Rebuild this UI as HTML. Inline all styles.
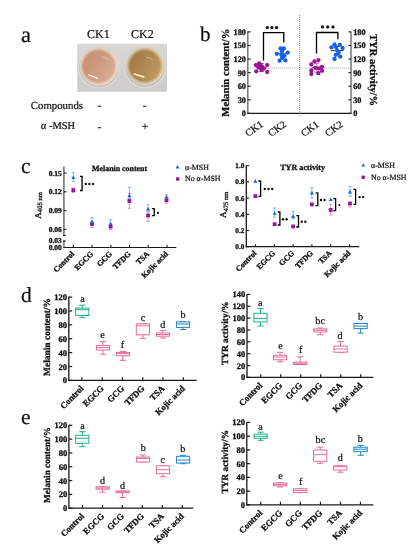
<!DOCTYPE html>
<html><head><meta charset="utf-8"><style>
html,body{margin:0;padding:0;background:#fff;}
svg{display:block;font-family:"Liberation Serif", serif;will-change:transform;text-rendering:geometricPrecision;}
</style></head><body>
<svg width="420" height="550" viewBox="0 0 420 550">
<rect width="420" height="550" fill="#fff"/>
<text x="21.00" y="41.50" font-size="22.5" font-weight="normal" text-anchor="start" fill="#111"  stroke="#111" stroke-width="0.22">a</text>
<text x="87.00" y="38.30" font-size="12" font-weight="normal" text-anchor="start" fill="#111"  stroke="#111" stroke-width="0.22">CK1</text>
<text x="131.00" y="38.30" font-size="12" font-weight="normal" text-anchor="start" fill="#111"  stroke="#111" stroke-width="0.22">CK2</text>
<text x="30.80" y="109.30" font-size="10.8" font-weight="normal" text-anchor="start" fill="#111"  stroke="#111" stroke-width="0.22">Compounds</text>
<text x="40.80" y="128.80" font-size="10.5" font-weight="normal" text-anchor="start" fill="#111"  stroke="#111" stroke-width="0.22">α -MSH</text>
<line x1="97.60" y1="106.30" x2="101.20" y2="106.30" stroke="#222" stroke-width="1.1" />
<line x1="143.00" y1="106.30" x2="146.40" y2="106.30" stroke="#222" stroke-width="1.1" />
<line x1="97.80" y1="127.70" x2="101.20" y2="127.70" stroke="#222" stroke-width="1.1" />
<line x1="142.00" y1="126.40" x2="148.00" y2="126.40" stroke="#222" stroke-width="0.9" />
<line x1="145.00" y1="123.40" x2="145.00" y2="129.40" stroke="#222" stroke-width="0.9" />
<defs>
<linearGradient id="w1" x1="0" y1="0.2" x2="1" y2="0.8">
<stop offset="0" stop-color="#c48c70"/><stop offset="0.45" stop-color="#cc9a7e"/><stop offset="1" stop-color="#dab29a"/></linearGradient>
<linearGradient id="w2" x1="0" y1="0.2" x2="1" y2="0.8">
<stop offset="0" stop-color="#9e7440"/><stop offset="0.45" stop-color="#ae8650"/><stop offset="1" stop-color="#c4a264"/></linearGradient>
<radialGradient id="rim" cx="0.5" cy="0.5" r="0.5">
<stop offset="0.78" stop-color="#fff" stop-opacity="0"/><stop offset="0.9" stop-color="#f4ece6" stop-opacity="0.45"/><stop offset="1" stop-color="#f4eee8" stop-opacity="0.85"/></radialGradient>
<radialGradient id="r1" cx="0.5" cy="0.5" r="0.5">
<stop offset="0.80" stop-color="#e2dcd6"/><stop offset="0.88" stop-color="#bdb7b2"/><stop offset="0.93" stop-color="#dedcda"/><stop offset="1" stop-color="#d2d0ce"/></radialGradient>
<linearGradient id="pl" x1="0" y1="0" x2="0" y2="1"><stop offset="0" stop-color="#d8d7d6"/><stop offset="1" stop-color="#cdcccb"/></linearGradient>
</defs>
<rect x="77.2" y="43.8" width="89.8" height="48" fill="url(#pl)"/>
<circle cx="98.8" cy="67.4" r="21.6" fill="url(#r1)"/>
<circle cx="145.0" cy="67.3" r="21.5" fill="url(#r1)"/>
<circle cx="98.8" cy="66.4" r="19.2" fill="url(#w1)"/>
<circle cx="145.0" cy="66.0" r="19.0" fill="url(#w2)"/>
<circle cx="98.8" cy="66.4" r="19.2" fill="url(#rim)"/>
<circle cx="145.0" cy="66.0" r="19.0" fill="url(#rim)"/>
<path d="M88.8,74.8 Q93,76.5 97.6,78.2" stroke="#fff6f0" stroke-width="1.4" fill="none" opacity="0.95" stroke-linecap="round"/>
<path d="M134.2,74 Q139,75.5 143.8,77" stroke="#fff8e6" stroke-width="1.4" fill="none" opacity="0.95" stroke-linecap="round"/>
<path d="M102,57 Q106,57.5 109,60" stroke="#e8c8b6" stroke-width="1.0" fill="none" opacity="0.8"/>
<path d="M146,57 Q150,57.5 153,60" stroke="#dcc090" stroke-width="1.0" fill="none" opacity="0.8"/>
<text x="200.00" y="41.00" font-size="21" font-weight="normal" text-anchor="start" fill="#111"  stroke="#111" stroke-width="0.22">b</text>
<line x1="247.8" y1="68.1" x2="351.0" y2="68.1" stroke="#8a8a8a" stroke-width="0.8" stroke-dasharray="1 1"/>
<line x1="299.6" y1="15" x2="299.6" y2="116.7" stroke="#777" stroke-width="0.8" stroke-dasharray="1 1"/>
<line x1="247.80" y1="31.40" x2="247.80" y2="114.00" stroke="#707070" stroke-width="1.45" />
<line x1="247.20" y1="113.40" x2="351.60" y2="113.40" stroke="#1a1a1a" stroke-width="1.2" />
<line x1="351.00" y1="31.40" x2="351.00" y2="114.00" stroke="#707070" stroke-width="1.45" />
<line x1="247.80" y1="113.40" x2="250.60" y2="113.40" stroke="#1a1a1a" stroke-width="1.1" />
<line x1="348.40" y1="113.40" x2="351.00" y2="113.40" stroke="#1a1a1a" stroke-width="1.1" />
<text x="246.00" y="116.30" font-size="8.3" font-weight="bold" text-anchor="end" fill="#111"  stroke="#111" stroke-width="0.3">0</text>
<text x="353.20" y="116.30" font-size="8.3" font-weight="bold" text-anchor="start" fill="#111"  stroke="#111" stroke-width="0.3">0</text>
<line x1="247.80" y1="99.82" x2="250.60" y2="99.82" stroke="#1a1a1a" stroke-width="1.1" />
<line x1="348.40" y1="99.82" x2="351.00" y2="99.82" stroke="#1a1a1a" stroke-width="1.1" />
<text x="246.00" y="102.72" font-size="8.3" font-weight="bold" text-anchor="end" fill="#111"  stroke="#111" stroke-width="0.3">30</text>
<text x="353.20" y="102.72" font-size="8.3" font-weight="bold" text-anchor="start" fill="#111"  stroke="#111" stroke-width="0.3">30</text>
<line x1="247.80" y1="86.23" x2="250.60" y2="86.23" stroke="#1a1a1a" stroke-width="1.1" />
<line x1="348.40" y1="86.23" x2="351.00" y2="86.23" stroke="#1a1a1a" stroke-width="1.1" />
<text x="246.00" y="89.13" font-size="8.3" font-weight="bold" text-anchor="end" fill="#111"  stroke="#111" stroke-width="0.3">60</text>
<text x="353.20" y="89.13" font-size="8.3" font-weight="bold" text-anchor="start" fill="#111"  stroke="#111" stroke-width="0.3">60</text>
<line x1="247.80" y1="72.65" x2="250.60" y2="72.65" stroke="#1a1a1a" stroke-width="1.1" />
<line x1="348.40" y1="72.65" x2="351.00" y2="72.65" stroke="#1a1a1a" stroke-width="1.1" />
<text x="246.00" y="75.55" font-size="8.3" font-weight="bold" text-anchor="end" fill="#111"  stroke="#111" stroke-width="0.3">90</text>
<text x="353.20" y="75.55" font-size="8.3" font-weight="bold" text-anchor="start" fill="#111"  stroke="#111" stroke-width="0.3">90</text>
<line x1="247.80" y1="59.07" x2="250.60" y2="59.07" stroke="#1a1a1a" stroke-width="1.1" />
<line x1="348.40" y1="59.07" x2="351.00" y2="59.07" stroke="#1a1a1a" stroke-width="1.1" />
<text x="246.00" y="61.97" font-size="8.3" font-weight="bold" text-anchor="end" fill="#111"  stroke="#111" stroke-width="0.3">120</text>
<text x="353.20" y="61.97" font-size="8.3" font-weight="bold" text-anchor="start" fill="#111"  stroke="#111" stroke-width="0.3">120</text>
<line x1="247.80" y1="45.48" x2="250.60" y2="45.48" stroke="#1a1a1a" stroke-width="1.1" />
<line x1="348.40" y1="45.48" x2="351.00" y2="45.48" stroke="#1a1a1a" stroke-width="1.1" />
<text x="246.00" y="48.38" font-size="8.3" font-weight="bold" text-anchor="end" fill="#111"  stroke="#111" stroke-width="0.3">150</text>
<text x="353.20" y="48.38" font-size="8.3" font-weight="bold" text-anchor="start" fill="#111"  stroke="#111" stroke-width="0.3">150</text>
<line x1="247.80" y1="31.90" x2="250.60" y2="31.90" stroke="#1a1a1a" stroke-width="1.1" />
<line x1="348.40" y1="31.90" x2="351.00" y2="31.90" stroke="#1a1a1a" stroke-width="1.1" />
<text x="246.00" y="34.80" font-size="8.3" font-weight="bold" text-anchor="end" fill="#111"  stroke="#111" stroke-width="0.3">180</text>
<text x="353.20" y="34.80" font-size="8.3" font-weight="bold" text-anchor="start" fill="#111"  stroke="#111" stroke-width="0.3">180</text>
<text x="228.70" y="72.60" font-size="10.7" font-weight="bold" text-anchor="middle" fill="#111" transform="rotate(-90 228.70 72.60)"  stroke="#111" stroke-width="0.3">Melanin content/%</text>
<text x="369.80" y="70.00" font-size="10.6" font-weight="bold" text-anchor="middle" fill="#111" transform="rotate(90 369.80 70.00)"  stroke="#111" stroke-width="0.3">TYR activity/%</text>
<text x="263.80" y="125.80" font-size="10.2" font-weight="normal" text-anchor="end" fill="#111" transform="rotate(-36 263.80 125.80)"  stroke="#111" stroke-width="0.22">CK1</text>
<text x="286.80" y="125.80" font-size="10.2" font-weight="normal" text-anchor="end" fill="#111" transform="rotate(-36 286.80 125.80)"  stroke="#111" stroke-width="0.22">CK2</text>
<text x="319.60" y="125.80" font-size="10.2" font-weight="normal" text-anchor="end" fill="#111" transform="rotate(-36 319.60 125.80)"  stroke="#111" stroke-width="0.22">CK1</text>
<text x="343.60" y="125.80" font-size="10.2" font-weight="normal" text-anchor="end" fill="#111" transform="rotate(-36 343.60 125.80)"  stroke="#111" stroke-width="0.22">CK2</text>
<line x1="256.25" y1="67.60" x2="266.75" y2="67.60" stroke="#7a2a78" stroke-width="0.9" />
<line x1="261.50" y1="63.50" x2="261.50" y2="71.50" stroke="#7a2a78" stroke-width="0.8" />
<line x1="259.30" y1="63.50" x2="263.70" y2="63.50" stroke="#7a2a78" stroke-width="0.8" />
<line x1="259.30" y1="71.50" x2="263.70" y2="71.50" stroke="#7a2a78" stroke-width="0.8" />
<line x1="276.75" y1="53.80" x2="287.25" y2="53.80" stroke="#333" stroke-width="0.9" />
<line x1="282.00" y1="49.50" x2="282.00" y2="58.50" stroke="#333" stroke-width="0.8" />
<line x1="279.80" y1="49.50" x2="284.20" y2="49.50" stroke="#333" stroke-width="0.8" />
<line x1="279.80" y1="58.50" x2="284.20" y2="58.50" stroke="#333" stroke-width="0.8" />
<line x1="311.65" y1="67.80" x2="322.15" y2="67.80" stroke="#b04ab0" stroke-width="0.9" />
<line x1="316.90" y1="63.20" x2="316.90" y2="72.30" stroke="#b04ab0" stroke-width="0.8" />
<line x1="314.70" y1="63.20" x2="319.10" y2="63.20" stroke="#b04ab0" stroke-width="0.8" />
<line x1="314.70" y1="72.30" x2="319.10" y2="72.30" stroke="#b04ab0" stroke-width="0.8" />
<line x1="330.70" y1="50.60" x2="343.70" y2="50.60" stroke="#222" stroke-width="0.9" />
<line x1="337.20" y1="46.50" x2="337.20" y2="55.00" stroke="#222" stroke-width="0.8" />
<line x1="335.00" y1="46.50" x2="339.40" y2="46.50" stroke="#222" stroke-width="0.8" />
<line x1="335.00" y1="55.00" x2="339.40" y2="55.00" stroke="#222" stroke-width="0.8" />
<circle cx="259.1" cy="63.5" r="2.15" fill="#9a1594"/>
<circle cx="255.8" cy="65.1" r="2.15" fill="#9a1594"/>
<circle cx="267.2" cy="65.1" r="2.15" fill="#9a1594"/>
<circle cx="262" cy="66.6" r="2.15" fill="#9a1594"/>
<circle cx="258.7" cy="67.5" r="2.15" fill="#9a1594"/>
<circle cx="256.3" cy="71.3" r="2.15" fill="#9a1594"/>
<circle cx="261.5" cy="69.9" r="2.15" fill="#9a1594"/>
<circle cx="267.2" cy="72" r="2.15" fill="#9a1594"/>
<circle cx="263.9" cy="68.5" r="2.15" fill="#9a1594"/>
<circle cx="260.5" cy="64.8" r="2.15" fill="#9a1594"/>
<circle cx="280.6" cy="48.5" r="2.15" fill="#1462e8"/>
<circle cx="283.9" cy="48.5" r="2.15" fill="#1462e8"/>
<circle cx="276.8" cy="53.8" r="2.15" fill="#1462e8"/>
<circle cx="287.7" cy="52.6" r="2.15" fill="#1462e8"/>
<circle cx="281.5" cy="55" r="2.15" fill="#1462e8"/>
<circle cx="284.4" cy="55.9" r="2.15" fill="#1462e8"/>
<circle cx="282.2" cy="57.8" r="2.15" fill="#1462e8"/>
<circle cx="279.6" cy="60.7" r="2.15" fill="#1462e8"/>
<circle cx="285.3" cy="60.4" r="2.15" fill="#1462e8"/>
<circle cx="282" cy="51.5" r="2.15" fill="#1462e8"/>
<circle cx="318.4" cy="60.1" r="2.15" fill="#9a1594"/>
<circle cx="314.5" cy="61.5" r="2.15" fill="#9a1594"/>
<circle cx="311.3" cy="64.5" r="2.15" fill="#9a1594"/>
<circle cx="322" cy="66.9" r="2.15" fill="#9a1594"/>
<circle cx="315.1" cy="67.8" r="2.15" fill="#9a1594"/>
<circle cx="318.7" cy="68.4" r="2.15" fill="#9a1594"/>
<circle cx="311.3" cy="70.5" r="2.15" fill="#9a1594"/>
<circle cx="322" cy="70.8" r="2.15" fill="#9a1594"/>
<circle cx="311.3" cy="74" r="2.15" fill="#9a1594"/>
<circle cx="318.4" cy="73.2" r="2.15" fill="#9a1594"/>
<circle cx="334.5" cy="44.5" r="2.15" fill="#1462e8"/>
<circle cx="339.9" cy="44.8" r="2.15" fill="#1462e8"/>
<circle cx="331.5" cy="47.4" r="2.15" fill="#1462e8"/>
<circle cx="336" cy="47.1" r="2.15" fill="#1462e8"/>
<circle cx="342.6" cy="48" r="2.15" fill="#1462e8"/>
<circle cx="337.2" cy="50.4" r="2.15" fill="#1462e8"/>
<circle cx="338.7" cy="52.8" r="2.15" fill="#1462e8"/>
<circle cx="335.7" cy="54.9" r="2.15" fill="#1462e8"/>
<circle cx="340.2" cy="56.7" r="2.15" fill="#1462e8"/>
<circle cx="334.5" cy="59" r="2.15" fill="#1462e8"/>
<polyline points="263.5,60.5 263.5,32.7 283.8,32.7 283.8,42.6" fill="none" stroke="#000" stroke-width="1.3"/>
<polyline points="316.5,53.6 316.5,32.5 337.9,32.5 337.9,39.3" fill="none" stroke="#000" stroke-width="1.3"/>
<circle cx="267.3" cy="27.6" r="1.6" fill="#111"/>
<circle cx="271.9" cy="27.6" r="1.6" fill="#111"/>
<circle cx="276.6" cy="27.6" r="1.6" fill="#111"/>
<circle cx="322.5" cy="26.9" r="1.6" fill="#111"/>
<circle cx="327.7" cy="26.9" r="1.6" fill="#111"/>
<circle cx="333.0" cy="26.9" r="1.6" fill="#111"/>
<text x="21.00" y="172.80" font-size="21.5" font-weight="normal" text-anchor="start" fill="#111"  stroke="#111" stroke-width="0.22">c</text>
<line x1="63.90" y1="166.40" x2="63.90" y2="235.60" stroke="#6a6a6a" stroke-width="1.5" />
<line x1="63.00" y1="235.50" x2="65.80" y2="235.50" stroke="#1a1a1a" stroke-width="1.1" />
<line x1="63.90" y1="240.20" x2="63.90" y2="248.10" stroke="#777" stroke-width="1.5" />
<line x1="63.30" y1="247.50" x2="176.40" y2="247.50" stroke="#1a1a1a" stroke-width="1.2" />
<line x1="63.90" y1="173.00" x2="66.50" y2="173.00" stroke="#1a1a1a" stroke-width="1.1" />
<text x="61.80" y="175.60" font-size="7.5" font-weight="bold" text-anchor="end" fill="#111"  stroke="#111" stroke-width="0.3">0.15</text>
<line x1="63.90" y1="191.80" x2="66.50" y2="191.80" stroke="#1a1a1a" stroke-width="1.1" />
<text x="61.80" y="194.40" font-size="7.5" font-weight="bold" text-anchor="end" fill="#111"  stroke="#111" stroke-width="0.3">0.12</text>
<line x1="63.90" y1="210.60" x2="66.50" y2="210.60" stroke="#1a1a1a" stroke-width="1.1" />
<text x="61.80" y="213.20" font-size="7.5" font-weight="bold" text-anchor="end" fill="#111"  stroke="#111" stroke-width="0.3">0.09</text>
<line x1="63.90" y1="229.40" x2="66.50" y2="229.40" stroke="#1a1a1a" stroke-width="1.1" />
<text x="61.80" y="232.00" font-size="7.5" font-weight="bold" text-anchor="end" fill="#111"  stroke="#111" stroke-width="0.3">0.06</text>
<line x1="63.00" y1="241.10" x2="65.70" y2="241.10" stroke="#1a1a1a" stroke-width="1.2" />
<text x="61.80" y="243.40" font-size="7.5" font-weight="bold" text-anchor="end" fill="#111"  stroke="#111" stroke-width="0.3">0.03</text>
<text x="61.80" y="249.60" font-size="7.5" font-weight="bold" text-anchor="end" fill="#111"  stroke="#111" stroke-width="0.3">0.00</text>
<line x1="73.30" y1="244.70" x2="73.30" y2="247.50" stroke="#1a1a1a" stroke-width="1.1" />
<line x1="92.10" y1="244.70" x2="92.10" y2="247.50" stroke="#1a1a1a" stroke-width="1.1" />
<line x1="110.90" y1="244.70" x2="110.90" y2="247.50" stroke="#1a1a1a" stroke-width="1.1" />
<line x1="129.60" y1="244.70" x2="129.60" y2="247.50" stroke="#1a1a1a" stroke-width="1.1" />
<line x1="148.20" y1="244.70" x2="148.20" y2="247.50" stroke="#1a1a1a" stroke-width="1.1" />
<line x1="167.00" y1="244.70" x2="167.00" y2="247.50" stroke="#1a1a1a" stroke-width="1.1" />
<text x="74.90" y="254.40" font-size="7.8" font-weight="bold" text-anchor="end" fill="#111" transform="rotate(-45 74.90 254.40)"  stroke="#111" stroke-width="0.3">Control</text>
<text x="93.70" y="254.40" font-size="7.8" font-weight="bold" text-anchor="end" fill="#111" transform="rotate(-45 93.70 254.40)"  stroke="#111" stroke-width="0.3">EGCG</text>
<text x="112.50" y="254.40" font-size="7.8" font-weight="bold" text-anchor="end" fill="#111" transform="rotate(-45 112.50 254.40)"  stroke="#111" stroke-width="0.3">GCG</text>
<text x="131.20" y="254.40" font-size="7.8" font-weight="bold" text-anchor="end" fill="#111" transform="rotate(-45 131.20 254.40)"  stroke="#111" stroke-width="0.3">TFDG</text>
<text x="149.80" y="254.40" font-size="7.8" font-weight="bold" text-anchor="end" fill="#111" transform="rotate(-45 149.80 254.40)"  stroke="#111" stroke-width="0.3">TSA</text>
<text x="168.60" y="254.40" font-size="7.8" font-weight="bold" text-anchor="end" fill="#111" transform="rotate(-45 168.60 254.40)"  stroke="#111" stroke-width="0.3">Kojic acid</text>
<text x="40.6" y="205.4" font-size="9" text-anchor="middle" fill="#111" stroke="#111" stroke-width="0.3" transform="rotate(-90 40.6 205.4)">A<tspan font-size="6.6" dy="1.8">405 nm</tspan></text>
<text x="119.60" y="171.20" font-size="7.9" font-weight="bold" text-anchor="middle" fill="#111"  stroke="#111" stroke-width="0.3">Melanin content</text>
<polygon points="175.60,168.51 179.40,168.51 177.50,165.09" fill="#1462e8"/>
<text x="185.00" y="169.60" font-size="7.9" font-weight="normal" text-anchor="start" fill="#111"  stroke="#111" stroke-width="0.22">α-MSH</text>
<rect x="176.05" y="177.35" width="3.3" height="3.3" fill="#9a1594"/>
<text x="185.00" y="181.20" font-size="7.9" font-weight="normal" text-anchor="start" fill="#111"  stroke="#111" stroke-width="0.22">No α-MSH</text>
<line x1="73.30" y1="188.00" x2="73.30" y2="192.60" stroke="#e07ab8" stroke-width="0.8" />
<line x1="71.70" y1="188.00" x2="74.90" y2="188.00" stroke="#e07ab8" stroke-width="0.8" />
<line x1="71.70" y1="192.60" x2="74.90" y2="192.60" stroke="#e07ab8" stroke-width="0.8" />
<line x1="73.30" y1="172.40" x2="73.30" y2="181.20" stroke="#6fa3f0" stroke-width="0.8" />
<line x1="71.70" y1="172.40" x2="74.90" y2="172.40" stroke="#6fa3f0" stroke-width="0.8" />
<line x1="71.70" y1="181.20" x2="74.90" y2="181.20" stroke="#6fa3f0" stroke-width="0.8" />
<line x1="92.00" y1="221.50" x2="92.00" y2="227.40" stroke="#e07ab8" stroke-width="0.8" />
<line x1="90.40" y1="221.50" x2="93.60" y2="221.50" stroke="#e07ab8" stroke-width="0.8" />
<line x1="90.40" y1="227.40" x2="93.60" y2="227.40" stroke="#e07ab8" stroke-width="0.8" />
<line x1="92.00" y1="217.60" x2="92.00" y2="224.80" stroke="#6fa3f0" stroke-width="0.8" />
<line x1="90.40" y1="217.60" x2="93.60" y2="217.60" stroke="#6fa3f0" stroke-width="0.8" />
<line x1="90.40" y1="224.80" x2="93.60" y2="224.80" stroke="#6fa3f0" stroke-width="0.8" />
<line x1="110.60" y1="223.60" x2="110.60" y2="229.50" stroke="#e07ab8" stroke-width="0.8" />
<line x1="109.00" y1="223.60" x2="112.20" y2="223.60" stroke="#e07ab8" stroke-width="0.8" />
<line x1="109.00" y1="229.50" x2="112.20" y2="229.50" stroke="#e07ab8" stroke-width="0.8" />
<line x1="110.60" y1="219.70" x2="110.60" y2="227.00" stroke="#6fa3f0" stroke-width="0.8" />
<line x1="109.00" y1="219.70" x2="112.20" y2="219.70" stroke="#6fa3f0" stroke-width="0.8" />
<line x1="109.00" y1="227.00" x2="112.20" y2="227.00" stroke="#6fa3f0" stroke-width="0.8" />
<line x1="129.40" y1="193.60" x2="129.40" y2="208.30" stroke="#e07ab8" stroke-width="0.8" />
<line x1="127.80" y1="193.60" x2="131.00" y2="193.60" stroke="#e07ab8" stroke-width="0.8" />
<line x1="127.80" y1="208.30" x2="131.00" y2="208.30" stroke="#e07ab8" stroke-width="0.8" />
<line x1="129.40" y1="187.40" x2="129.40" y2="198.60" stroke="#6fa3f0" stroke-width="0.8" />
<line x1="127.80" y1="187.40" x2="131.00" y2="187.40" stroke="#6fa3f0" stroke-width="0.8" />
<line x1="127.80" y1="198.60" x2="131.00" y2="198.60" stroke="#6fa3f0" stroke-width="0.8" />
<line x1="148.10" y1="211.00" x2="148.10" y2="221.40" stroke="#e07ab8" stroke-width="0.8" />
<line x1="146.50" y1="211.00" x2="149.70" y2="211.00" stroke="#e07ab8" stroke-width="0.8" />
<line x1="146.50" y1="221.40" x2="149.70" y2="221.40" stroke="#e07ab8" stroke-width="0.8" />
<line x1="148.10" y1="204.60" x2="148.10" y2="212.00" stroke="#6fa3f0" stroke-width="0.8" />
<line x1="146.50" y1="204.60" x2="149.70" y2="204.60" stroke="#6fa3f0" stroke-width="0.8" />
<line x1="146.50" y1="212.00" x2="149.70" y2="212.00" stroke="#6fa3f0" stroke-width="0.8" />
<line x1="166.50" y1="197.30" x2="166.50" y2="203.10" stroke="#e07ab8" stroke-width="0.8" />
<line x1="164.90" y1="197.30" x2="168.10" y2="197.30" stroke="#e07ab8" stroke-width="0.8" />
<line x1="164.90" y1="203.10" x2="168.10" y2="203.10" stroke="#e07ab8" stroke-width="0.8" />
<line x1="166.50" y1="194.60" x2="166.50" y2="199.00" stroke="#6fa3f0" stroke-width="0.8" />
<line x1="164.90" y1="194.60" x2="168.10" y2="194.60" stroke="#6fa3f0" stroke-width="0.8" />
<line x1="164.90" y1="199.00" x2="168.10" y2="199.00" stroke="#6fa3f0" stroke-width="0.8" />
<rect x="71.40" y="188.30" width="3.8" height="3.8" fill="#9a1594"/>
<polygon points="71.30,179.00 75.30,179.00 73.30,175.40" fill="#1462e8"/>
<rect x="90.10" y="222.10" width="3.8" height="3.8" fill="#9a1594"/>
<polygon points="90.00,223.40 94.00,223.40 92.00,219.80" fill="#1462e8"/>
<rect x="108.70" y="224.70" width="3.8" height="3.8" fill="#9a1594"/>
<polygon points="108.60,225.50 112.60,225.50 110.60,221.90" fill="#1462e8"/>
<rect x="127.50" y="199.10" width="3.8" height="3.8" fill="#9a1594"/>
<polygon points="127.40,197.30 131.40,197.30 129.40,193.70" fill="#1462e8"/>
<rect x="146.20" y="213.60" width="3.8" height="3.8" fill="#9a1594"/>
<polygon points="146.10,210.60 150.10,210.60 148.10,207.00" fill="#1462e8"/>
<rect x="164.60" y="198.30" width="3.8" height="3.8" fill="#9a1594"/>
<polygon points="164.50,198.60 168.50,198.60 166.50,195.00" fill="#1462e8"/>
<polyline points="79.90,176.40 82.10,176.40 82.10,190.50 79.90,190.50" fill="none" stroke="#000" stroke-width="1.3"/>
<circle cx="85.80" cy="184.00" r="1.2" fill="#111"/>
<circle cx="89.40" cy="184.00" r="1.2" fill="#111"/>
<circle cx="93.00" cy="184.00" r="1.2" fill="#111"/>
<polyline points="152.00,208.60 154.20,208.60 154.20,215.70 152.00,215.70" fill="none" stroke="#000" stroke-width="1.3"/>
<circle cx="157.90" cy="212.90" r="1.1" fill="#111"/>
<line x1="246.30" y1="165.20" x2="246.30" y2="247.20" stroke="#1a1a1a" stroke-width="1.3" />
<line x1="245.70" y1="246.70" x2="359.30" y2="246.70" stroke="#1a1a1a" stroke-width="1.2" />
<line x1="246.30" y1="246.70" x2="249.10" y2="246.70" stroke="#1a1a1a" stroke-width="1.1" />
<text x="244.30" y="249.20" font-size="7.2" font-weight="bold" text-anchor="end" fill="#111"  stroke="#111" stroke-width="0.3">0.0</text>
<line x1="246.30" y1="230.50" x2="249.10" y2="230.50" stroke="#1a1a1a" stroke-width="1.1" />
<text x="244.30" y="233.00" font-size="7.2" font-weight="bold" text-anchor="end" fill="#111"  stroke="#111" stroke-width="0.3">0.2</text>
<line x1="246.30" y1="214.30" x2="249.10" y2="214.30" stroke="#1a1a1a" stroke-width="1.1" />
<text x="244.30" y="216.80" font-size="7.2" font-weight="bold" text-anchor="end" fill="#111"  stroke="#111" stroke-width="0.3">0.4</text>
<line x1="246.30" y1="198.10" x2="249.10" y2="198.10" stroke="#1a1a1a" stroke-width="1.1" />
<text x="244.30" y="200.60" font-size="7.2" font-weight="bold" text-anchor="end" fill="#111"  stroke="#111" stroke-width="0.3">0.6</text>
<line x1="246.30" y1="181.90" x2="249.10" y2="181.90" stroke="#1a1a1a" stroke-width="1.1" />
<text x="244.30" y="184.40" font-size="7.2" font-weight="bold" text-anchor="end" fill="#111"  stroke="#111" stroke-width="0.3">0.8</text>
<line x1="246.30" y1="165.70" x2="249.10" y2="165.70" stroke="#1a1a1a" stroke-width="1.1" />
<text x="244.30" y="168.20" font-size="7.2" font-weight="bold" text-anchor="end" fill="#111"  stroke="#111" stroke-width="0.3">1.0</text>
<line x1="255.40" y1="244.20" x2="255.40" y2="246.70" stroke="#1a1a1a" stroke-width="1.1" />
<line x1="274.30" y1="244.20" x2="274.30" y2="246.70" stroke="#1a1a1a" stroke-width="1.1" />
<line x1="293.10" y1="244.20" x2="293.10" y2="246.70" stroke="#1a1a1a" stroke-width="1.1" />
<line x1="311.90" y1="244.20" x2="311.90" y2="246.70" stroke="#1a1a1a" stroke-width="1.1" />
<line x1="330.70" y1="244.20" x2="330.70" y2="246.70" stroke="#1a1a1a" stroke-width="1.1" />
<line x1="349.60" y1="244.20" x2="349.60" y2="246.70" stroke="#1a1a1a" stroke-width="1.1" />
<text x="257.00" y="253.60" font-size="7.8" font-weight="bold" text-anchor="end" fill="#111" transform="rotate(-45 257.00 253.60)"  stroke="#111" stroke-width="0.3">Control</text>
<text x="275.90" y="253.60" font-size="7.8" font-weight="bold" text-anchor="end" fill="#111" transform="rotate(-45 275.90 253.60)"  stroke="#111" stroke-width="0.3">EGCG</text>
<text x="294.70" y="253.60" font-size="7.8" font-weight="bold" text-anchor="end" fill="#111" transform="rotate(-45 294.70 253.60)"  stroke="#111" stroke-width="0.3">GCG</text>
<text x="313.50" y="253.60" font-size="7.8" font-weight="bold" text-anchor="end" fill="#111" transform="rotate(-45 313.50 253.60)"  stroke="#111" stroke-width="0.3">TFDG</text>
<text x="332.30" y="253.60" font-size="7.8" font-weight="bold" text-anchor="end" fill="#111" transform="rotate(-45 332.30 253.60)"  stroke="#111" stroke-width="0.3">TSA</text>
<text x="351.20" y="253.60" font-size="7.8" font-weight="bold" text-anchor="end" fill="#111" transform="rotate(-45 351.20 253.60)"  stroke="#111" stroke-width="0.3">Kojic acid</text>
<text x="225.8" y="204.8" font-size="9" text-anchor="middle" fill="#111" stroke="#111" stroke-width="0.3" transform="rotate(-90 225.8 204.8)">A<tspan font-size="6.6" dy="1.8">475 nm</tspan></text>
<text x="302.60" y="170.10" font-size="8.1" font-weight="bold" text-anchor="middle" fill="#111"  stroke="#111" stroke-width="0.3">TYR activity</text>
<polygon points="361.30,166.61 365.10,166.61 363.20,163.19" fill="#1462e8"/>
<text x="371.00" y="167.80" font-size="7.9" font-weight="normal" text-anchor="start" fill="#111"  stroke="#111" stroke-width="0.22">α-MSH</text>
<rect x="361.55" y="175.65" width="3.3" height="3.3" fill="#9a1594"/>
<text x="371.00" y="179.60" font-size="7.9" font-weight="normal" text-anchor="start" fill="#111"  stroke="#111" stroke-width="0.22">No α-MSH</text>
<line x1="274.60" y1="207.90" x2="274.60" y2="217.10" stroke="#6fa3f0" stroke-width="0.8" />
<line x1="273.00" y1="207.90" x2="276.20" y2="207.90" stroke="#6fa3f0" stroke-width="0.8" />
<line x1="273.00" y1="217.10" x2="276.20" y2="217.10" stroke="#6fa3f0" stroke-width="0.8" />
<line x1="293.10" y1="211.40" x2="293.10" y2="219.00" stroke="#6fa3f0" stroke-width="0.8" />
<line x1="291.50" y1="211.40" x2="294.70" y2="211.40" stroke="#6fa3f0" stroke-width="0.8" />
<line x1="291.50" y1="219.00" x2="294.70" y2="219.00" stroke="#6fa3f0" stroke-width="0.8" />
<line x1="311.90" y1="187.60" x2="311.90" y2="197.90" stroke="#6fa3f0" stroke-width="0.8" />
<line x1="310.30" y1="187.60" x2="313.50" y2="187.60" stroke="#6fa3f0" stroke-width="0.8" />
<line x1="310.30" y1="197.90" x2="313.50" y2="197.90" stroke="#6fa3f0" stroke-width="0.8" />
<line x1="330.70" y1="204.30" x2="330.70" y2="215.00" stroke="#e07ab8" stroke-width="0.8" />
<line x1="329.10" y1="204.30" x2="332.30" y2="204.30" stroke="#e07ab8" stroke-width="0.8" />
<line x1="329.10" y1="215.00" x2="332.30" y2="215.00" stroke="#e07ab8" stroke-width="0.8" />
<line x1="350.00" y1="203.50" x2="350.00" y2="207.00" stroke="#e07ab8" stroke-width="0.8" />
<line x1="348.40" y1="203.50" x2="351.60" y2="203.50" stroke="#e07ab8" stroke-width="0.8" />
<line x1="348.40" y1="207.00" x2="351.60" y2="207.00" stroke="#e07ab8" stroke-width="0.8" />
<line x1="350.00" y1="186.40" x2="350.00" y2="196.40" stroke="#6fa3f0" stroke-width="0.8" />
<line x1="348.40" y1="186.40" x2="351.60" y2="186.40" stroke="#6fa3f0" stroke-width="0.8" />
<line x1="348.40" y1="196.40" x2="351.60" y2="196.40" stroke="#6fa3f0" stroke-width="0.8" />
<rect x="253.50" y="194.20" width="3.8" height="3.8" fill="#9a1594"/>
<polygon points="253.40,182.70 257.40,182.70 255.40,179.10" fill="#1462e8"/>
<rect x="272.70" y="222.30" width="3.8" height="3.8" fill="#9a1594"/>
<polygon points="272.60,214.80 276.60,214.80 274.60,211.20" fill="#1462e8"/>
<rect x="291.20" y="224.50" width="3.8" height="3.8" fill="#9a1594"/>
<polygon points="291.10,217.90 295.10,217.90 293.10,214.30" fill="#1462e8"/>
<rect x="310.00" y="202.50" width="3.8" height="3.8" fill="#9a1594"/>
<polygon points="309.90,194.60 313.90,194.60 311.90,191.00" fill="#1462e8"/>
<rect x="328.80" y="208.00" width="3.8" height="3.8" fill="#9a1594"/>
<polygon points="328.70,201.10 332.70,201.10 330.70,197.50" fill="#1462e8"/>
<rect x="348.10" y="201.60" width="3.8" height="3.8" fill="#9a1594"/>
<polygon points="348.00,193.40 352.00,193.40 350.00,189.80" fill="#1462e8"/>
<polyline points="258.40,181.00 260.60,181.00 260.60,196.40 258.40,196.40" fill="none" stroke="#000" stroke-width="1.3"/>
<circle cx="264.80" cy="189.00" r="1.2" fill="#111"/>
<circle cx="268.50" cy="189.00" r="1.2" fill="#111"/>
<circle cx="272.20" cy="189.00" r="1.2" fill="#111"/>
<polyline points="277.70,212.00 279.90,212.00 279.90,225.00 277.70,225.00" fill="none" stroke="#000" stroke-width="1.3"/>
<circle cx="283.00" cy="219.30" r="1.2" fill="#111"/>
<circle cx="286.60" cy="219.30" r="1.2" fill="#111"/>
<polyline points="296.30,215.70 298.50,215.70 298.50,227.00 296.30,227.00" fill="none" stroke="#000" stroke-width="1.3"/>
<circle cx="301.70" cy="221.70" r="1.2" fill="#111"/>
<circle cx="305.30" cy="221.70" r="1.2" fill="#111"/>
<polyline points="315.60,192.90 317.80,192.90 317.80,205.70 315.60,205.70" fill="none" stroke="#000" stroke-width="1.3"/>
<circle cx="321.00" cy="200.00" r="1.2" fill="#111"/>
<circle cx="324.60" cy="200.00" r="1.2" fill="#111"/>
<polyline points="333.40,198.60 335.60,198.60 335.60,210.70 333.40,210.70" fill="none" stroke="#000" stroke-width="1.3"/>
<circle cx="339.30" cy="205.00" r="1.1" fill="#111"/>
<polyline points="353.40,189.30 355.60,189.30 355.60,204.30 353.40,204.30" fill="none" stroke="#000" stroke-width="1.3"/>
<circle cx="359.60" cy="197.10" r="1.2" fill="#111"/>
<circle cx="363.20" cy="197.10" r="1.2" fill="#111"/>
<line x1="68.80" y1="296.60" x2="68.80" y2="381.00" stroke="#1a1a1a" stroke-width="1.3" />
<line x1="68.20" y1="380.40" x2="196.70" y2="380.40" stroke="#1a1a1a" stroke-width="1.3" />
<line x1="68.80" y1="380.40" x2="72.20" y2="380.40" stroke="#1a1a1a" stroke-width="1.2" />
<text x="67.10" y="383.40" font-size="8.5" font-weight="bold" text-anchor="end" fill="#111"  stroke="#111" stroke-width="0.3">0</text>
<line x1="68.80" y1="366.52" x2="72.20" y2="366.52" stroke="#1a1a1a" stroke-width="1.2" />
<text x="67.10" y="369.52" font-size="8.5" font-weight="bold" text-anchor="end" fill="#111"  stroke="#111" stroke-width="0.3">20</text>
<line x1="68.80" y1="352.63" x2="72.20" y2="352.63" stroke="#1a1a1a" stroke-width="1.2" />
<text x="67.10" y="355.63" font-size="8.5" font-weight="bold" text-anchor="end" fill="#111"  stroke="#111" stroke-width="0.3">40</text>
<line x1="68.80" y1="338.75" x2="72.20" y2="338.75" stroke="#1a1a1a" stroke-width="1.2" />
<text x="67.10" y="341.75" font-size="8.5" font-weight="bold" text-anchor="end" fill="#111"  stroke="#111" stroke-width="0.3">60</text>
<line x1="68.80" y1="324.87" x2="72.20" y2="324.87" stroke="#1a1a1a" stroke-width="1.2" />
<text x="67.10" y="327.87" font-size="8.5" font-weight="bold" text-anchor="end" fill="#111"  stroke="#111" stroke-width="0.3">80</text>
<line x1="68.80" y1="310.98" x2="72.20" y2="310.98" stroke="#1a1a1a" stroke-width="1.2" />
<text x="67.10" y="313.98" font-size="8.5" font-weight="bold" text-anchor="end" fill="#111"  stroke="#111" stroke-width="0.3">100</text>
<line x1="68.80" y1="297.10" x2="72.20" y2="297.10" stroke="#1a1a1a" stroke-width="1.2" />
<text x="67.10" y="300.10" font-size="8.5" font-weight="bold" text-anchor="end" fill="#111"  stroke="#111" stroke-width="0.3">120</text>
<line x1="81.90" y1="377.20" x2="81.90" y2="380.40" stroke="#1a1a1a" stroke-width="1.2" />
<line x1="102.20" y1="377.20" x2="102.20" y2="380.40" stroke="#1a1a1a" stroke-width="1.2" />
<line x1="122.50" y1="377.20" x2="122.50" y2="380.40" stroke="#1a1a1a" stroke-width="1.2" />
<line x1="142.80" y1="377.20" x2="142.80" y2="380.40" stroke="#1a1a1a" stroke-width="1.2" />
<line x1="163.00" y1="377.20" x2="163.00" y2="380.40" stroke="#1a1a1a" stroke-width="1.2" />
<line x1="183.30" y1="377.20" x2="183.30" y2="380.40" stroke="#1a1a1a" stroke-width="1.2" />
<text x="84.10" y="389.00" font-size="8.7" font-weight="bold" text-anchor="end" fill="#111" transform="rotate(-45 84.10 389.00)"  stroke="#111" stroke-width="0.3">Control</text>
<text x="104.40" y="389.00" font-size="8.7" font-weight="bold" text-anchor="end" fill="#111" transform="rotate(-45 104.40 389.00)"  stroke="#111" stroke-width="0.3">EGCG</text>
<text x="124.70" y="389.00" font-size="8.7" font-weight="bold" text-anchor="end" fill="#111" transform="rotate(-45 124.70 389.00)"  stroke="#111" stroke-width="0.3">GCG</text>
<text x="145.00" y="389.00" font-size="8.7" font-weight="bold" text-anchor="end" fill="#111" transform="rotate(-45 145.00 389.00)"  stroke="#111" stroke-width="0.3">TFDG</text>
<text x="165.20" y="389.00" font-size="8.7" font-weight="bold" text-anchor="end" fill="#111" transform="rotate(-45 165.20 389.00)"  stroke="#111" stroke-width="0.3">TSA</text>
<text x="185.50" y="389.00" font-size="8.7" font-weight="bold" text-anchor="end" fill="#111" transform="rotate(-45 185.50 389.00)"  stroke="#111" stroke-width="0.3">Kojic acid</text>
<text x="49.80" y="337.00" font-size="9.45" font-weight="bold" text-anchor="middle" fill="#111" transform="rotate(-90 49.80 337.00)"  stroke="#111" stroke-width="0.3">Melanin content/%</text>
<line x1="82.30" y1="305.20" x2="82.30" y2="308.10" stroke="#1fae8e" stroke-width="1.0" />
<line x1="82.30" y1="315.50" x2="82.30" y2="317.60" stroke="#1fae8e" stroke-width="1.0" />
<line x1="79.20" y1="305.20" x2="85.40" y2="305.20" stroke="#1fae8e" stroke-width="1.0" />
<line x1="79.20" y1="317.60" x2="85.40" y2="317.60" stroke="#1fae8e" stroke-width="1.0" />
<rect x="75.70" y="308.10" width="13.2" height="7.40" fill="#fff" stroke="#1fae8e" stroke-width="1.0"/>
<line x1="75.70" y1="309.70" x2="88.90" y2="309.70" stroke="#1fae8e" stroke-width="1.0" />
<line x1="103.00" y1="341.70" x2="103.00" y2="345.50" stroke="#e46c9c" stroke-width="1.0" />
<line x1="103.00" y1="350.00" x2="103.00" y2="354.20" stroke="#e46c9c" stroke-width="1.0" />
<line x1="99.90" y1="341.70" x2="106.10" y2="341.70" stroke="#e46c9c" stroke-width="1.0" />
<line x1="99.90" y1="354.20" x2="106.10" y2="354.20" stroke="#e46c9c" stroke-width="1.0" />
<rect x="96.40" y="345.50" width="13.2" height="4.50" fill="#fff" stroke="#e46c9c" stroke-width="1.0"/>
<line x1="96.40" y1="347.60" x2="109.60" y2="347.60" stroke="#e46c9c" stroke-width="1.0" />
<line x1="122.90" y1="351.40" x2="122.90" y2="352.40" stroke="#e46c9c" stroke-width="1.0" />
<line x1="122.90" y1="355.70" x2="122.90" y2="360.40" stroke="#e46c9c" stroke-width="1.0" />
<line x1="119.80" y1="351.40" x2="126.00" y2="351.40" stroke="#e46c9c" stroke-width="1.0" />
<line x1="119.80" y1="360.40" x2="126.00" y2="360.40" stroke="#e46c9c" stroke-width="1.0" />
<rect x="116.30" y="352.40" width="13.2" height="3.30" fill="#fff" stroke="#e46c9c" stroke-width="1.0"/>
<line x1="116.30" y1="353.60" x2="129.50" y2="353.60" stroke="#e46c9c" stroke-width="1.0" />
<line x1="142.90" y1="323.80" x2="142.90" y2="323.80" stroke="#e46c9c" stroke-width="1.0" />
<line x1="142.90" y1="334.80" x2="142.90" y2="338.30" stroke="#e46c9c" stroke-width="1.0" />
<line x1="139.80" y1="323.80" x2="146.00" y2="323.80" stroke="#e46c9c" stroke-width="1.0" />
<line x1="139.80" y1="338.30" x2="146.00" y2="338.30" stroke="#e46c9c" stroke-width="1.0" />
<rect x="136.30" y="323.80" width="13.2" height="11.00" fill="#fff" stroke="#e46c9c" stroke-width="1.0"/>
<line x1="136.30" y1="325.80" x2="149.50" y2="325.80" stroke="#e46c9c" stroke-width="1.0" />
<line x1="162.90" y1="330.40" x2="162.90" y2="333.00" stroke="#e46c9c" stroke-width="1.0" />
<line x1="162.90" y1="336.20" x2="162.90" y2="338.00" stroke="#e46c9c" stroke-width="1.0" />
<line x1="159.80" y1="330.40" x2="166.00" y2="330.40" stroke="#e46c9c" stroke-width="1.0" />
<line x1="159.80" y1="338.00" x2="166.00" y2="338.00" stroke="#e46c9c" stroke-width="1.0" />
<rect x="156.30" y="333.00" width="13.2" height="3.20" fill="#fff" stroke="#e46c9c" stroke-width="1.0"/>
<line x1="156.30" y1="334.50" x2="169.50" y2="334.50" stroke="#e46c9c" stroke-width="1.0" />
<line x1="183.00" y1="321.90" x2="183.00" y2="321.90" stroke="#1f86c8" stroke-width="1.0" />
<line x1="183.00" y1="327.40" x2="183.00" y2="329.50" stroke="#1f86c8" stroke-width="1.0" />
<line x1="179.90" y1="321.90" x2="186.10" y2="321.90" stroke="#1f86c8" stroke-width="1.0" />
<line x1="179.90" y1="329.50" x2="186.10" y2="329.50" stroke="#1f86c8" stroke-width="1.0" />
<rect x="176.40" y="321.90" width="13.2" height="5.50" fill="#fff" stroke="#1f86c8" stroke-width="1.0"/>
<line x1="176.40" y1="324.00" x2="189.60" y2="324.00" stroke="#1f86c8" stroke-width="1.0" />
<text x="82.60" y="302.20" font-size="10.2" font-weight="normal" text-anchor="middle" fill="#111"  stroke="#111" stroke-width="0.22">a</text>
<text x="102.60" y="338.10" font-size="10.2" font-weight="normal" text-anchor="middle" fill="#111"  stroke="#111" stroke-width="0.22">e</text>
<text x="122.50" y="348.20" font-size="10.2" font-weight="normal" text-anchor="middle" fill="#111"  stroke="#111" stroke-width="0.22">f</text>
<text x="143.00" y="320.50" font-size="10.2" font-weight="normal" text-anchor="middle" fill="#111"  stroke="#111" stroke-width="0.22">c</text>
<text x="162.80" y="328.00" font-size="10.2" font-weight="normal" text-anchor="middle" fill="#111"  stroke="#111" stroke-width="0.22">d</text>
<text x="183.10" y="317.90" font-size="10.2" font-weight="normal" text-anchor="middle" fill="#111"  stroke="#111" stroke-width="0.22">b</text>
<text x="21.00" y="302.00" font-size="21.5" font-weight="normal" text-anchor="start" fill="#111"  stroke="#111" stroke-width="0.22">d</text>
<line x1="247.00" y1="293.90" x2="247.00" y2="378.00" stroke="#1a1a1a" stroke-width="1.3" />
<line x1="246.40" y1="377.40" x2="373.30" y2="377.40" stroke="#1a1a1a" stroke-width="1.3" />
<line x1="247.00" y1="377.40" x2="250.40" y2="377.40" stroke="#1a1a1a" stroke-width="1.2" />
<text x="245.30" y="380.40" font-size="8.5" font-weight="bold" text-anchor="end" fill="#111"  stroke="#111" stroke-width="0.3">0</text>
<line x1="247.00" y1="365.54" x2="250.40" y2="365.54" stroke="#1a1a1a" stroke-width="1.2" />
<text x="245.30" y="368.54" font-size="8.5" font-weight="bold" text-anchor="end" fill="#111"  stroke="#111" stroke-width="0.3">20</text>
<line x1="247.00" y1="353.69" x2="250.40" y2="353.69" stroke="#1a1a1a" stroke-width="1.2" />
<text x="245.30" y="356.69" font-size="8.5" font-weight="bold" text-anchor="end" fill="#111"  stroke="#111" stroke-width="0.3">40</text>
<line x1="247.00" y1="341.83" x2="250.40" y2="341.83" stroke="#1a1a1a" stroke-width="1.2" />
<text x="245.30" y="344.83" font-size="8.5" font-weight="bold" text-anchor="end" fill="#111"  stroke="#111" stroke-width="0.3">60</text>
<line x1="247.00" y1="329.97" x2="250.40" y2="329.97" stroke="#1a1a1a" stroke-width="1.2" />
<text x="245.30" y="332.97" font-size="8.5" font-weight="bold" text-anchor="end" fill="#111"  stroke="#111" stroke-width="0.3">80</text>
<line x1="247.00" y1="318.11" x2="250.40" y2="318.11" stroke="#1a1a1a" stroke-width="1.2" />
<text x="245.30" y="321.11" font-size="8.5" font-weight="bold" text-anchor="end" fill="#111"  stroke="#111" stroke-width="0.3">100</text>
<line x1="247.00" y1="306.26" x2="250.40" y2="306.26" stroke="#1a1a1a" stroke-width="1.2" />
<text x="245.30" y="309.26" font-size="8.5" font-weight="bold" text-anchor="end" fill="#111"  stroke="#111" stroke-width="0.3">120</text>
<line x1="247.00" y1="294.40" x2="250.40" y2="294.40" stroke="#1a1a1a" stroke-width="1.2" />
<text x="245.30" y="297.40" font-size="8.5" font-weight="bold" text-anchor="end" fill="#111"  stroke="#111" stroke-width="0.3">140</text>
<line x1="260.70" y1="374.20" x2="260.70" y2="377.40" stroke="#1a1a1a" stroke-width="1.2" />
<line x1="280.70" y1="374.20" x2="280.70" y2="377.40" stroke="#1a1a1a" stroke-width="1.2" />
<line x1="300.70" y1="374.20" x2="300.70" y2="377.40" stroke="#1a1a1a" stroke-width="1.2" />
<line x1="320.70" y1="374.20" x2="320.70" y2="377.40" stroke="#1a1a1a" stroke-width="1.2" />
<line x1="340.70" y1="374.20" x2="340.70" y2="377.40" stroke="#1a1a1a" stroke-width="1.2" />
<line x1="360.70" y1="374.20" x2="360.70" y2="377.40" stroke="#1a1a1a" stroke-width="1.2" />
<text x="262.90" y="386.00" font-size="8.7" font-weight="bold" text-anchor="end" fill="#111" transform="rotate(-45 262.90 386.00)"  stroke="#111" stroke-width="0.3">Control</text>
<text x="282.90" y="386.00" font-size="8.7" font-weight="bold" text-anchor="end" fill="#111" transform="rotate(-45 282.90 386.00)"  stroke="#111" stroke-width="0.3">EGCG</text>
<text x="302.90" y="386.00" font-size="8.7" font-weight="bold" text-anchor="end" fill="#111" transform="rotate(-45 302.90 386.00)"  stroke="#111" stroke-width="0.3">GCG</text>
<text x="322.90" y="386.00" font-size="8.7" font-weight="bold" text-anchor="end" fill="#111" transform="rotate(-45 322.90 386.00)"  stroke="#111" stroke-width="0.3">TFDG</text>
<text x="342.90" y="386.00" font-size="8.7" font-weight="bold" text-anchor="end" fill="#111" transform="rotate(-45 342.90 386.00)"  stroke="#111" stroke-width="0.3">TSA</text>
<text x="362.90" y="386.00" font-size="8.7" font-weight="bold" text-anchor="end" fill="#111" transform="rotate(-45 362.90 386.00)"  stroke="#111" stroke-width="0.3">Kojic acid</text>
<text x="228.20" y="333.20" font-size="9.35" font-weight="bold" text-anchor="middle" fill="#111" transform="rotate(-90 228.20 333.20)"  stroke="#111" stroke-width="0.3">TYR activity/%</text>
<line x1="260.50" y1="308.60" x2="260.50" y2="313.30" stroke="#1fae8e" stroke-width="1.0" />
<line x1="260.50" y1="321.90" x2="260.50" y2="326.00" stroke="#1fae8e" stroke-width="1.0" />
<line x1="257.40" y1="308.60" x2="263.60" y2="308.60" stroke="#1fae8e" stroke-width="1.0" />
<line x1="257.40" y1="326.00" x2="263.60" y2="326.00" stroke="#1fae8e" stroke-width="1.0" />
<rect x="253.90" y="313.30" width="13.2" height="8.60" fill="#fff" stroke="#1fae8e" stroke-width="1.0"/>
<line x1="253.90" y1="318.40" x2="267.10" y2="318.40" stroke="#1fae8e" stroke-width="1.0" />
<line x1="280.10" y1="352.30" x2="280.10" y2="355.20" stroke="#e46c9c" stroke-width="1.0" />
<line x1="280.10" y1="359.80" x2="280.10" y2="361.80" stroke="#e46c9c" stroke-width="1.0" />
<line x1="277.00" y1="352.30" x2="283.20" y2="352.30" stroke="#e46c9c" stroke-width="1.0" />
<line x1="277.00" y1="361.80" x2="283.20" y2="361.80" stroke="#e46c9c" stroke-width="1.0" />
<rect x="273.50" y="355.20" width="13.2" height="4.60" fill="#fff" stroke="#e46c9c" stroke-width="1.0"/>
<line x1="273.50" y1="357.00" x2="286.70" y2="357.00" stroke="#e46c9c" stroke-width="1.0" />
<line x1="300.20" y1="356.80" x2="300.20" y2="362.10" stroke="#e46c9c" stroke-width="1.0" />
<line x1="300.20" y1="364.50" x2="300.20" y2="364.50" stroke="#e46c9c" stroke-width="1.0" />
<line x1="297.10" y1="356.80" x2="303.30" y2="356.80" stroke="#e46c9c" stroke-width="1.0" />
<line x1="297.10" y1="364.50" x2="303.30" y2="364.50" stroke="#e46c9c" stroke-width="1.0" />
<rect x="293.60" y="362.10" width="13.2" height="2.40" fill="#fff" stroke="#e46c9c" stroke-width="1.0"/>
<line x1="293.60" y1="363.30" x2="306.80" y2="363.30" stroke="#e46c9c" stroke-width="1.0" />
<line x1="320.30" y1="328.00" x2="320.30" y2="328.90" stroke="#e46c9c" stroke-width="1.0" />
<line x1="320.30" y1="331.90" x2="320.30" y2="334.80" stroke="#e46c9c" stroke-width="1.0" />
<line x1="317.20" y1="328.00" x2="323.40" y2="328.00" stroke="#e46c9c" stroke-width="1.0" />
<line x1="317.20" y1="334.80" x2="323.40" y2="334.80" stroke="#e46c9c" stroke-width="1.0" />
<rect x="313.70" y="328.90" width="13.2" height="3.00" fill="#fff" stroke="#e46c9c" stroke-width="1.0"/>
<line x1="313.70" y1="330.20" x2="326.90" y2="330.20" stroke="#e46c9c" stroke-width="1.0" />
<line x1="340.60" y1="341.40" x2="340.60" y2="346.10" stroke="#e46c9c" stroke-width="1.0" />
<line x1="340.60" y1="352.20" x2="340.60" y2="352.20" stroke="#e46c9c" stroke-width="1.0" />
<line x1="337.50" y1="341.40" x2="343.70" y2="341.40" stroke="#e46c9c" stroke-width="1.0" />
<line x1="337.50" y1="352.20" x2="343.70" y2="352.20" stroke="#e46c9c" stroke-width="1.0" />
<rect x="334.00" y="346.10" width="13.2" height="6.10" fill="#fff" stroke="#e46c9c" stroke-width="1.0"/>
<line x1="334.00" y1="349.00" x2="347.20" y2="349.00" stroke="#e46c9c" stroke-width="1.0" />
<line x1="360.60" y1="323.50" x2="360.60" y2="323.50" stroke="#1f86c8" stroke-width="1.0" />
<line x1="360.60" y1="328.60" x2="360.60" y2="333.10" stroke="#1f86c8" stroke-width="1.0" />
<line x1="357.50" y1="323.50" x2="363.70" y2="323.50" stroke="#1f86c8" stroke-width="1.0" />
<line x1="357.50" y1="333.10" x2="363.70" y2="333.10" stroke="#1f86c8" stroke-width="1.0" />
<rect x="354.00" y="323.50" width="13.2" height="5.10" fill="#fff" stroke="#1f86c8" stroke-width="1.0"/>
<line x1="354.00" y1="326.10" x2="367.20" y2="326.10" stroke="#1f86c8" stroke-width="1.0" />
<text x="260.30" y="305.70" font-size="10.2" font-weight="normal" text-anchor="middle" fill="#111"  stroke="#111" stroke-width="0.22">a</text>
<text x="280.50" y="349.00" font-size="10.2" font-weight="normal" text-anchor="middle" fill="#111"  stroke="#111" stroke-width="0.22">e</text>
<text x="300.70" y="352.90" font-size="10.2" font-weight="normal" text-anchor="middle" fill="#111"  stroke="#111" stroke-width="0.22">f</text>
<text x="320.10" y="324.40" font-size="10.2" font-weight="normal" text-anchor="middle" fill="#111"  stroke="#111" stroke-width="0.22">bc</text>
<text x="340.10" y="338.80" font-size="10.2" font-weight="normal" text-anchor="middle" fill="#111"  stroke="#111" stroke-width="0.22">d</text>
<text x="360.50" y="320.40" font-size="10.2" font-weight="normal" text-anchor="middle" fill="#111"  stroke="#111" stroke-width="0.22">b</text>
<line x1="68.90" y1="424.80" x2="68.90" y2="508.80" stroke="#1a1a1a" stroke-width="1.3" />
<line x1="68.30" y1="508.20" x2="193.30" y2="508.20" stroke="#1a1a1a" stroke-width="1.3" />
<line x1="68.90" y1="508.20" x2="72.30" y2="508.20" stroke="#1a1a1a" stroke-width="1.2" />
<text x="67.20" y="511.20" font-size="8.5" font-weight="bold" text-anchor="end" fill="#111"  stroke="#111" stroke-width="0.3">0</text>
<line x1="68.90" y1="494.38" x2="72.30" y2="494.38" stroke="#1a1a1a" stroke-width="1.2" />
<text x="67.20" y="497.38" font-size="8.5" font-weight="bold" text-anchor="end" fill="#111"  stroke="#111" stroke-width="0.3">20</text>
<line x1="68.90" y1="480.57" x2="72.30" y2="480.57" stroke="#1a1a1a" stroke-width="1.2" />
<text x="67.20" y="483.57" font-size="8.5" font-weight="bold" text-anchor="end" fill="#111"  stroke="#111" stroke-width="0.3">40</text>
<line x1="68.90" y1="466.75" x2="72.30" y2="466.75" stroke="#1a1a1a" stroke-width="1.2" />
<text x="67.20" y="469.75" font-size="8.5" font-weight="bold" text-anchor="end" fill="#111"  stroke="#111" stroke-width="0.3">60</text>
<line x1="68.90" y1="452.93" x2="72.30" y2="452.93" stroke="#1a1a1a" stroke-width="1.2" />
<text x="67.20" y="455.93" font-size="8.5" font-weight="bold" text-anchor="end" fill="#111"  stroke="#111" stroke-width="0.3">80</text>
<line x1="68.90" y1="439.12" x2="72.30" y2="439.12" stroke="#1a1a1a" stroke-width="1.2" />
<text x="67.20" y="442.12" font-size="8.5" font-weight="bold" text-anchor="end" fill="#111"  stroke="#111" stroke-width="0.3">100</text>
<line x1="68.90" y1="425.30" x2="72.30" y2="425.30" stroke="#1a1a1a" stroke-width="1.2" />
<text x="67.20" y="428.30" font-size="8.5" font-weight="bold" text-anchor="end" fill="#111"  stroke="#111" stroke-width="0.3">120</text>
<line x1="82.50" y1="505.00" x2="82.50" y2="508.20" stroke="#1a1a1a" stroke-width="1.2" />
<line x1="102.50" y1="505.00" x2="102.50" y2="508.20" stroke="#1a1a1a" stroke-width="1.2" />
<line x1="122.30" y1="505.00" x2="122.30" y2="508.20" stroke="#1a1a1a" stroke-width="1.2" />
<line x1="142.30" y1="505.00" x2="142.30" y2="508.20" stroke="#1a1a1a" stroke-width="1.2" />
<line x1="162.30" y1="505.00" x2="162.30" y2="508.20" stroke="#1a1a1a" stroke-width="1.2" />
<line x1="182.30" y1="505.00" x2="182.30" y2="508.20" stroke="#1a1a1a" stroke-width="1.2" />
<text x="84.70" y="516.80" font-size="8.7" font-weight="bold" text-anchor="end" fill="#111" transform="rotate(-45 84.70 516.80)"  stroke="#111" stroke-width="0.3">Control</text>
<text x="104.70" y="516.80" font-size="8.7" font-weight="bold" text-anchor="end" fill="#111" transform="rotate(-45 104.70 516.80)"  stroke="#111" stroke-width="0.3">EGCG</text>
<text x="124.50" y="516.80" font-size="8.7" font-weight="bold" text-anchor="end" fill="#111" transform="rotate(-45 124.50 516.80)"  stroke="#111" stroke-width="0.3">GCG</text>
<text x="144.50" y="516.80" font-size="8.7" font-weight="bold" text-anchor="end" fill="#111" transform="rotate(-45 144.50 516.80)"  stroke="#111" stroke-width="0.3">TFDG</text>
<text x="164.50" y="516.80" font-size="8.7" font-weight="bold" text-anchor="end" fill="#111" transform="rotate(-45 164.50 516.80)"  stroke="#111" stroke-width="0.3">TSA</text>
<text x="184.50" y="516.80" font-size="8.7" font-weight="bold" text-anchor="end" fill="#111" transform="rotate(-45 184.50 516.80)"  stroke="#111" stroke-width="0.3">Kojic acid</text>
<text x="49.80" y="465.00" font-size="9.2" font-weight="bold" text-anchor="middle" fill="#111" transform="rotate(-90 49.80 465.00)"  stroke="#111" stroke-width="0.3">Melanin content/%</text>
<line x1="82.30" y1="431.70" x2="82.30" y2="435.30" stroke="#1fae8e" stroke-width="1.0" />
<line x1="82.30" y1="443.30" x2="82.30" y2="446.70" stroke="#1fae8e" stroke-width="1.0" />
<line x1="79.20" y1="431.70" x2="85.40" y2="431.70" stroke="#1fae8e" stroke-width="1.0" />
<line x1="79.20" y1="446.70" x2="85.40" y2="446.70" stroke="#1fae8e" stroke-width="1.0" />
<rect x="75.70" y="435.30" width="13.2" height="8.00" fill="#fff" stroke="#1fae8e" stroke-width="1.0"/>
<line x1="75.70" y1="438.30" x2="88.90" y2="438.30" stroke="#1fae8e" stroke-width="1.0" />
<line x1="102.60" y1="486.80" x2="102.60" y2="486.80" stroke="#e46c9c" stroke-width="1.0" />
<line x1="102.60" y1="489.20" x2="102.60" y2="492.10" stroke="#e46c9c" stroke-width="1.0" />
<line x1="99.50" y1="486.80" x2="105.70" y2="486.80" stroke="#e46c9c" stroke-width="1.0" />
<line x1="99.50" y1="492.10" x2="105.70" y2="492.10" stroke="#e46c9c" stroke-width="1.0" />
<rect x="96.00" y="486.80" width="13.2" height="2.40" fill="#fff" stroke="#e46c9c" stroke-width="1.0"/>
<line x1="96.00" y1="488.00" x2="109.20" y2="488.00" stroke="#e46c9c" stroke-width="1.0" />
<line x1="122.60" y1="491.00" x2="122.60" y2="491.00" stroke="#e46c9c" stroke-width="1.0" />
<line x1="122.60" y1="492.70" x2="122.60" y2="497.50" stroke="#e46c9c" stroke-width="1.0" />
<line x1="119.50" y1="491.00" x2="125.70" y2="491.00" stroke="#e46c9c" stroke-width="1.0" />
<line x1="119.50" y1="497.50" x2="125.70" y2="497.50" stroke="#e46c9c" stroke-width="1.0" />
<rect x="116.00" y="491.00" width="13.2" height="1.70" fill="#fff" stroke="#e46c9c" stroke-width="1.0"/>
<line x1="116.00" y1="491.80" x2="129.20" y2="491.80" stroke="#e46c9c" stroke-width="1.0" />
<line x1="143.00" y1="455.00" x2="143.00" y2="457.00" stroke="#e46c9c" stroke-width="1.0" />
<line x1="143.00" y1="462.00" x2="143.00" y2="462.00" stroke="#e46c9c" stroke-width="1.0" />
<line x1="139.90" y1="455.00" x2="146.10" y2="455.00" stroke="#e46c9c" stroke-width="1.0" />
<line x1="139.90" y1="462.00" x2="146.10" y2="462.00" stroke="#e46c9c" stroke-width="1.0" />
<rect x="136.40" y="457.00" width="13.2" height="5.00" fill="#fff" stroke="#e46c9c" stroke-width="1.0"/>
<line x1="136.40" y1="458.50" x2="149.60" y2="458.50" stroke="#e46c9c" stroke-width="1.0" />
<line x1="163.00" y1="465.80" x2="163.00" y2="465.80" stroke="#e46c9c" stroke-width="1.0" />
<line x1="163.00" y1="473.70" x2="163.00" y2="476.70" stroke="#e46c9c" stroke-width="1.0" />
<line x1="159.90" y1="465.80" x2="166.10" y2="465.80" stroke="#e46c9c" stroke-width="1.0" />
<line x1="159.90" y1="476.70" x2="166.10" y2="476.70" stroke="#e46c9c" stroke-width="1.0" />
<rect x="156.40" y="465.80" width="13.2" height="7.90" fill="#fff" stroke="#e46c9c" stroke-width="1.0"/>
<line x1="156.40" y1="469.70" x2="169.60" y2="469.70" stroke="#e46c9c" stroke-width="1.0" />
<line x1="183.00" y1="455.30" x2="183.00" y2="456.30" stroke="#1f86c8" stroke-width="1.0" />
<line x1="183.00" y1="463.00" x2="183.00" y2="463.70" stroke="#1f86c8" stroke-width="1.0" />
<line x1="179.90" y1="455.30" x2="186.10" y2="455.30" stroke="#1f86c8" stroke-width="1.0" />
<line x1="179.90" y1="463.70" x2="186.10" y2="463.70" stroke="#1f86c8" stroke-width="1.0" />
<rect x="176.40" y="456.30" width="13.2" height="6.70" fill="#fff" stroke="#1f86c8" stroke-width="1.0"/>
<line x1="176.40" y1="460.00" x2="189.60" y2="460.00" stroke="#1f86c8" stroke-width="1.0" />
<text x="82.40" y="429.20" font-size="10.2" font-weight="normal" text-anchor="middle" fill="#111"  stroke="#111" stroke-width="0.22">a</text>
<text x="102.50" y="483.80" font-size="10.2" font-weight="normal" text-anchor="middle" fill="#111"  stroke="#111" stroke-width="0.22">d</text>
<text x="122.50" y="488.60" font-size="10.2" font-weight="normal" text-anchor="middle" fill="#111"  stroke="#111" stroke-width="0.22">d</text>
<text x="143.30" y="451.30" font-size="10.2" font-weight="normal" text-anchor="middle" fill="#111"  stroke="#111" stroke-width="0.22">b</text>
<text x="162.80" y="463.30" font-size="10.2" font-weight="normal" text-anchor="middle" fill="#111"  stroke="#111" stroke-width="0.22">c</text>
<text x="182.90" y="451.70" font-size="10.2" font-weight="normal" text-anchor="middle" fill="#111"  stroke="#111" stroke-width="0.22">b</text>
<text x="21.00" y="424.40" font-size="21.5" font-weight="normal" text-anchor="start" fill="#111"  stroke="#111" stroke-width="0.22">e</text>
<line x1="246.80" y1="421.90" x2="246.80" y2="505.50" stroke="#1a1a1a" stroke-width="1.3" />
<line x1="246.20" y1="504.90" x2="373.30" y2="504.90" stroke="#1a1a1a" stroke-width="1.3" />
<line x1="246.80" y1="504.90" x2="250.20" y2="504.90" stroke="#1a1a1a" stroke-width="1.2" />
<text x="245.10" y="507.90" font-size="8.5" font-weight="bold" text-anchor="end" fill="#111"  stroke="#111" stroke-width="0.3">0</text>
<line x1="246.80" y1="491.15" x2="250.20" y2="491.15" stroke="#1a1a1a" stroke-width="1.2" />
<text x="245.10" y="494.15" font-size="8.5" font-weight="bold" text-anchor="end" fill="#111"  stroke="#111" stroke-width="0.3">20</text>
<line x1="246.80" y1="477.40" x2="250.20" y2="477.40" stroke="#1a1a1a" stroke-width="1.2" />
<text x="245.10" y="480.40" font-size="8.5" font-weight="bold" text-anchor="end" fill="#111"  stroke="#111" stroke-width="0.3">40</text>
<line x1="246.80" y1="463.65" x2="250.20" y2="463.65" stroke="#1a1a1a" stroke-width="1.2" />
<text x="245.10" y="466.65" font-size="8.5" font-weight="bold" text-anchor="end" fill="#111"  stroke="#111" stroke-width="0.3">60</text>
<line x1="246.80" y1="449.90" x2="250.20" y2="449.90" stroke="#1a1a1a" stroke-width="1.2" />
<text x="245.10" y="452.90" font-size="8.5" font-weight="bold" text-anchor="end" fill="#111"  stroke="#111" stroke-width="0.3">80</text>
<line x1="246.80" y1="436.15" x2="250.20" y2="436.15" stroke="#1a1a1a" stroke-width="1.2" />
<text x="245.10" y="439.15" font-size="8.5" font-weight="bold" text-anchor="end" fill="#111"  stroke="#111" stroke-width="0.3">100</text>
<line x1="246.80" y1="422.40" x2="250.20" y2="422.40" stroke="#1a1a1a" stroke-width="1.2" />
<text x="245.10" y="425.40" font-size="8.5" font-weight="bold" text-anchor="end" fill="#111"  stroke="#111" stroke-width="0.3">120</text>
<line x1="260.70" y1="501.70" x2="260.70" y2="504.90" stroke="#1a1a1a" stroke-width="1.2" />
<line x1="280.50" y1="501.70" x2="280.50" y2="504.90" stroke="#1a1a1a" stroke-width="1.2" />
<line x1="300.30" y1="501.70" x2="300.30" y2="504.90" stroke="#1a1a1a" stroke-width="1.2" />
<line x1="320.50" y1="501.70" x2="320.50" y2="504.90" stroke="#1a1a1a" stroke-width="1.2" />
<line x1="340.50" y1="501.70" x2="340.50" y2="504.90" stroke="#1a1a1a" stroke-width="1.2" />
<line x1="360.50" y1="501.70" x2="360.50" y2="504.90" stroke="#1a1a1a" stroke-width="1.2" />
<text x="262.90" y="513.50" font-size="8.7" font-weight="bold" text-anchor="end" fill="#111" transform="rotate(-45 262.90 513.50)"  stroke="#111" stroke-width="0.3">Control</text>
<text x="282.70" y="513.50" font-size="8.7" font-weight="bold" text-anchor="end" fill="#111" transform="rotate(-45 282.70 513.50)"  stroke="#111" stroke-width="0.3">EGCG</text>
<text x="302.50" y="513.50" font-size="8.7" font-weight="bold" text-anchor="end" fill="#111" transform="rotate(-45 302.50 513.50)"  stroke="#111" stroke-width="0.3">GCG</text>
<text x="322.70" y="513.50" font-size="8.7" font-weight="bold" text-anchor="end" fill="#111" transform="rotate(-45 322.70 513.50)"  stroke="#111" stroke-width="0.3">TFDG</text>
<text x="342.70" y="513.50" font-size="8.7" font-weight="bold" text-anchor="end" fill="#111" transform="rotate(-45 342.70 513.50)"  stroke="#111" stroke-width="0.3">TSA</text>
<text x="362.70" y="513.50" font-size="8.7" font-weight="bold" text-anchor="end" fill="#111" transform="rotate(-45 362.70 513.50)"  stroke="#111" stroke-width="0.3">Kojic acid</text>
<text x="228.20" y="461.80" font-size="9.35" font-weight="bold" text-anchor="middle" fill="#111" transform="rotate(-90 228.20 461.80)"  stroke="#111" stroke-width="0.3">TYR activity/%</text>
<line x1="260.60" y1="432.20" x2="260.60" y2="434.20" stroke="#1fae8e" stroke-width="1.0" />
<line x1="260.60" y1="438.30" x2="260.60" y2="440.30" stroke="#1fae8e" stroke-width="1.0" />
<line x1="257.50" y1="432.20" x2="263.70" y2="432.20" stroke="#1fae8e" stroke-width="1.0" />
<line x1="257.50" y1="440.30" x2="263.70" y2="440.30" stroke="#1fae8e" stroke-width="1.0" />
<rect x="254.00" y="434.20" width="13.2" height="4.10" fill="#fff" stroke="#1fae8e" stroke-width="1.0"/>
<line x1="254.00" y1="436.30" x2="267.20" y2="436.30" stroke="#1fae8e" stroke-width="1.0" />
<line x1="280.20" y1="482.90" x2="280.20" y2="482.90" stroke="#e46c9c" stroke-width="1.0" />
<line x1="280.20" y1="485.80" x2="280.20" y2="487.00" stroke="#e46c9c" stroke-width="1.0" />
<line x1="277.10" y1="482.90" x2="283.30" y2="482.90" stroke="#e46c9c" stroke-width="1.0" />
<line x1="277.10" y1="487.00" x2="283.30" y2="487.00" stroke="#e46c9c" stroke-width="1.0" />
<rect x="273.60" y="482.90" width="13.2" height="2.90" fill="#fff" stroke="#e46c9c" stroke-width="1.0"/>
<line x1="273.60" y1="484.30" x2="286.80" y2="484.30" stroke="#e46c9c" stroke-width="1.0" />
<line x1="300.20" y1="488.80" x2="300.20" y2="488.80" stroke="#e46c9c" stroke-width="1.0" />
<line x1="300.20" y1="492.60" x2="300.20" y2="492.60" stroke="#e46c9c" stroke-width="1.0" />
<line x1="297.10" y1="488.80" x2="303.30" y2="488.80" stroke="#e46c9c" stroke-width="1.0" />
<line x1="297.10" y1="492.60" x2="303.30" y2="492.60" stroke="#e46c9c" stroke-width="1.0" />
<rect x="293.60" y="488.80" width="13.2" height="3.80" fill="#fff" stroke="#e46c9c" stroke-width="1.0"/>
<line x1="293.60" y1="490.50" x2="306.80" y2="490.50" stroke="#e46c9c" stroke-width="1.0" />
<line x1="320.20" y1="447.20" x2="320.20" y2="450.00" stroke="#e46c9c" stroke-width="1.0" />
<line x1="320.20" y1="461.30" x2="320.20" y2="463.30" stroke="#e46c9c" stroke-width="1.0" />
<line x1="317.10" y1="447.20" x2="323.30" y2="447.20" stroke="#e46c9c" stroke-width="1.0" />
<line x1="317.10" y1="463.30" x2="323.30" y2="463.30" stroke="#e46c9c" stroke-width="1.0" />
<rect x="313.60" y="450.00" width="13.2" height="11.30" fill="#fff" stroke="#e46c9c" stroke-width="1.0"/>
<line x1="313.60" y1="454.70" x2="326.80" y2="454.70" stroke="#e46c9c" stroke-width="1.0" />
<line x1="340.30" y1="465.80" x2="340.30" y2="465.80" stroke="#e46c9c" stroke-width="1.0" />
<line x1="340.30" y1="470.00" x2="340.30" y2="472.20" stroke="#e46c9c" stroke-width="1.0" />
<line x1="337.20" y1="465.80" x2="343.40" y2="465.80" stroke="#e46c9c" stroke-width="1.0" />
<line x1="337.20" y1="472.20" x2="343.40" y2="472.20" stroke="#e46c9c" stroke-width="1.0" />
<rect x="333.70" y="465.80" width="13.2" height="4.20" fill="#fff" stroke="#e46c9c" stroke-width="1.0"/>
<line x1="333.70" y1="466.70" x2="346.90" y2="466.70" stroke="#e46c9c" stroke-width="1.0" />
<line x1="360.60" y1="445.30" x2="360.60" y2="447.20" stroke="#1f86c8" stroke-width="1.0" />
<line x1="360.60" y1="451.70" x2="360.60" y2="455.30" stroke="#1f86c8" stroke-width="1.0" />
<line x1="357.50" y1="445.30" x2="363.70" y2="445.30" stroke="#1f86c8" stroke-width="1.0" />
<line x1="357.50" y1="455.30" x2="363.70" y2="455.30" stroke="#1f86c8" stroke-width="1.0" />
<rect x="354.00" y="447.20" width="13.2" height="4.50" fill="#fff" stroke="#1f86c8" stroke-width="1.0"/>
<line x1="354.00" y1="449.20" x2="367.20" y2="449.20" stroke="#1f86c8" stroke-width="1.0" />
<text x="260.40" y="430.00" font-size="10.2" font-weight="normal" text-anchor="middle" fill="#111"  stroke="#111" stroke-width="0.22">a</text>
<text x="280.50" y="478.70" font-size="10.2" font-weight="normal" text-anchor="middle" fill="#111"  stroke="#111" stroke-width="0.22">e</text>
<text x="300.70" y="484.60" font-size="10.2" font-weight="normal" text-anchor="middle" fill="#111"  stroke="#111" stroke-width="0.22">f</text>
<text x="320.40" y="443.00" font-size="10.2" font-weight="normal" text-anchor="middle" fill="#111"  stroke="#111" stroke-width="0.22">bc</text>
<text x="340.30" y="460.80" font-size="10.2" font-weight="normal" text-anchor="middle" fill="#111"  stroke="#111" stroke-width="0.22">d</text>
<text x="360.30" y="441.70" font-size="10.2" font-weight="normal" text-anchor="middle" fill="#111"  stroke="#111" stroke-width="0.22">b</text>
</svg></body></html>
